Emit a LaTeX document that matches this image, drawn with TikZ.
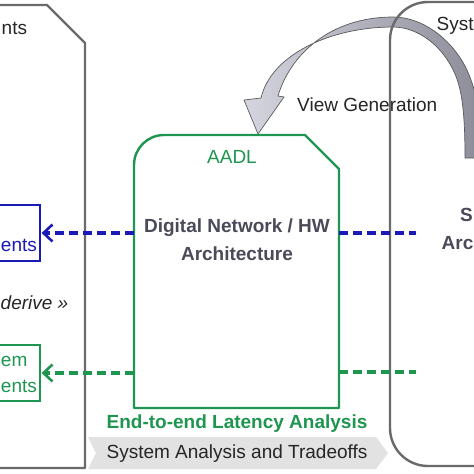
\documentclass[tikz,border=0pt]{standalone}
\usepackage{fontspec}
\setmainfont{Liberation Sans}
\usetikzlibrary{arrows.meta}
\definecolor{boxgray}{HTML}{6A6A6A}
\definecolor{aadlgreen}{HTML}{1E9650}
\definecolor{linkblue}{HTML}{1A1AB8}
\definecolor{titlegray}{HTML}{4A4A58}
\definecolor{textdark}{HTML}{262626}
\definecolor{bannergray}{HTML}{E2E2E2}
\definecolor{arrowlight}{HTML}{D4D5DE}
\definecolor{arrowdark}{HTML}{8C8D99}
\tikzset{
  txt/.style={inner sep=0pt, font=\fontsize{19}{23}\selectfont, text=textdark},
  boldtxt/.style={txt, font=\fontsize{19}{23}\selectfont\bfseries, text=titlegray},
  outline/.style={draw=boxgray, line width=2.4pt, line join=round},
  greenline/.style={draw=aadlgreen, line width=2.4pt, line join=round},
  bluedash/.style={draw=linkblue, line width=3.2pt, dash pattern=on 9pt off 5pt},
  greendash/.style={draw=aadlgreen, line width=3.2pt, dash pattern=on 9pt off 5pt},
  barb/.style={-{Straight Barb[length=9pt,width=17pt,line width=2.6pt]}},
}
\begin{document}
\begin{tikzpicture}[x=1pt,y=-1pt]
\useasboundingbox (0,0) rectangle (474,474);
\fill[white] (0,0) rectangle (474,474);

% left box (requirements)
\draw[outline] (-10,5) -- (47,5) -- (85,43) -- (85,468) -- (-10,468);
\node[txt, anchor=west] (reqtitle) at (1.5,28) {nts};

% blue box
\node[draw=linkblue, line width=1.2pt, minimum width=70pt, minimum height=56pt, inner sep=0pt] (bluebox) at (5,233) {};
\node[txt, text=linkblue, anchor=west] (bluetxt) at (0.8,245) {ents};
\node[txt, anchor=west, font=\fontsize{19}{23}\selectfont\itshape] (derive) at (0.5,303) {derive »};

% green box
\node[draw=aadlgreen, line width=1.2pt, minimum width=70pt, minimum height=56pt, inner sep=0pt] (greenbox) at (5,373) {};
\node[txt, text=aadlgreen, anchor=west] (greentxt1) at (0.8,361) {em};
\node[txt, text=aadlgreen, anchor=west] (greentxt2) at (0.8,386) {ents};

% curved block arrow (View Generation)
\path[draw=boxgray!85!black, line width=0.7pt, left color=arrowlight, right color=arrowdark]
  (465,158) -- (481,158) .. controls (481,115) and (477,90) .. (465,66)
  .. controls (450,38) and (422,17) .. (393,17)
  .. controls (330,17) and (290,55) .. (278,96) -- (284,97) -- (258,134) -- (244,100) -- (261,98)
  .. controls (271,55) and (330,27) .. (393,27)
  .. controls (418,27) and (443,46) .. (455,74)
  .. controls (463,92) and (465,120) .. (465,158) -- cycle;
\node[txt, anchor=west] (viewgen) at (297,105) {View Generation};

% right box (system architecture)
\draw[outline, rounded corners=38pt] (490,466) -- (390,466) -- (390,2) -- (490,2);
\node[txt, anchor=west] (systitle) at (436.5,25.5) {Syst};
\node[boldtxt, anchor=west] (sysarch1) at (460,215) {S};
\node[boldtxt, anchor=west] (sysarch2) at (441.5,243) {Arc};

% AADL box
\node[minimum width=205pt, minimum height=273pt, inner sep=0pt] (aadl) at (236.5,271.5) {};
\path[fill=white] (134,408) -- (134,165) arc[start angle=180, end angle=270, radius=30] -- (305,135) -- (339,169) -- (339,408) -- cycle;
\draw[greenline] (134,408) -- (134,165) arc[start angle=180, end angle=270, radius=30] -- (305,135) -- (339,169) -- (339,408) -- cycle;
\node[txt, text=aadlgreen] (aadllabel) at (232,157) {AADL};
\node[boldtxt, align=center, font=\fontsize{19}{28}\selectfont\bfseries] (aadltitle) at (237,240) {Digital Network / HW\\Architecture};

% connectors
\coordinate (blueend) at (416,233);
\coordinate (greenend) at (416,372);
\draw[bluedash, barb] (aadl.west |- bluebox.east) -- ([xshift=1pt]bluebox.east);
\draw[bluedash] (aadl.east |- blueend) -- (blueend);
\draw[greendash, barb] (aadl.west |- greenbox.east) -- ([xshift=1pt]greenbox.east);
\draw[greendash] (aadl.east |- greenend) -- (greenend);

% bottom labels
\node[txt, text=aadlgreen, font=\fontsize{19}{23}\selectfont\bfseries] (latency) at (237,424) {End-to-end Latency Analysis};
\fill[bannergray] (88,437) -- (376,437) -- (388,453) -- (376,469) -- (88,469) -- (96,453) -- cycle;
\node[txt] (tradeoffs) at (237,454) {System Analysis and Tradeoffs};
\end{tikzpicture}
\end{document}
